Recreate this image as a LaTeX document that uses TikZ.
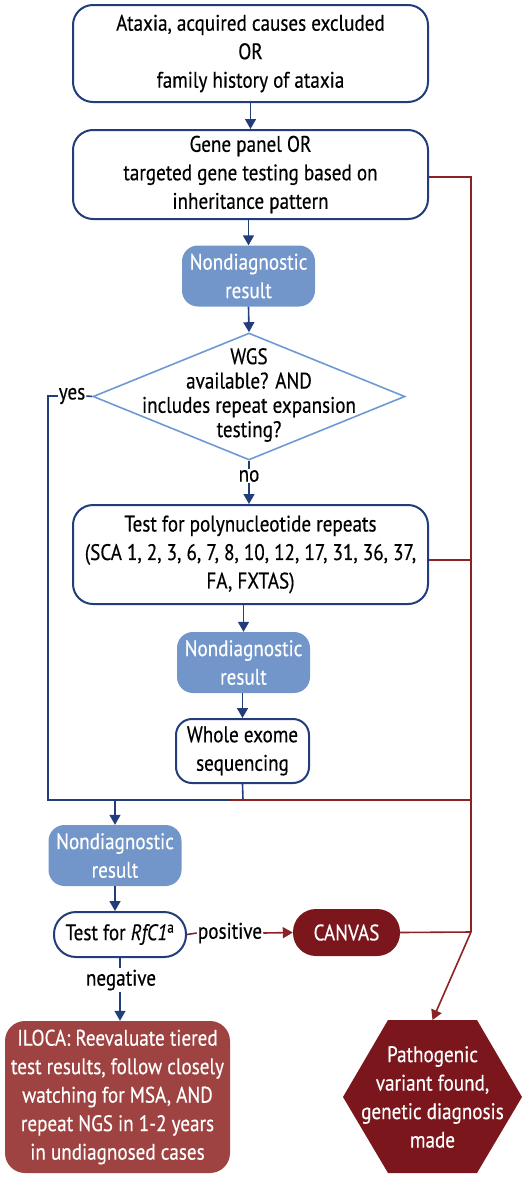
\documentclass[tikz,border=0pt]{standalone}
\usepackage{fontspec}
\setmainfont{PT Sans}[FakeStretch=0.85,FakeBold=0.4]
\usetikzlibrary{arrows.meta,shapes.geometric}
\definecolor{navy}{RGB}{33,62,122}
\definecolor{lblue}{RGB}{114,149,202}
\definecolor{dblue}{RGB}{111,153,211}
\definecolor{dred}{RGB}{122,22,28}
\definecolor{mred}{RGB}{158,67,65}
\definecolor{rline}{RGB}{139,34,38}
\begin{document}
\begin{tikzpicture}[x=1pt,y=-1pt,
  every node/.style={font=\fontsize{22.5}{28.5}\selectfont, align=center, inner sep=0pt},
  whitebox/.style={draw=navy, line width=2pt, fill=white, rounded corners=20pt},
  ndbox/.style={fill=lblue, text=white, rounded corners=16pt, minimum width=133pt, minimum height=61pt},
  blueline/.style={draw=navy, line width=1.6pt},
  redline/.style={draw=rline, line width=1.6pt},
  barrow/.style={blueline, -{Triangle[width=11pt,length=10pt]}},
  rarrow/.style={redline, -{Triangle[width=11pt,length=10pt]}},
  lbl/.style={fill=white, inner sep=1pt}
]
\useasboundingbox (0,0) rectangle (524,1178);

\node[whitebox, minimum width=355pt, minimum height=97pt] (b1) at (250.5,53.5)
  {Ataxia, acquired causes excluded\\OR\\family history of ataxia};
\node[whitebox, minimum width=355pt, minimum height=89pt] (b2) at (250.5,174.5)
  {Gene panel OR\\targeted gene testing based on\\inheritance pattern};
\node[ndbox] (nd1) at (248.5,276) {Nondiagnostic\\result};
\node[diamond, draw=dblue, line width=1.6pt, minimum width=312pt, minimum height=127pt] (dia) at (249,396.5) {};
\node[font=\fontsize{22.5}{24.3}\selectfont] (diat) at (249,395) {WGS\\available? AND\\includes repeat expansion\\testing?};
\node[lbl] (yes) at (72,396) {yes};
\node[lbl] (no) at (249,476) {no};
\node[whitebox, minimum width=355pt, minimum height=99pt] (b3) at (250.5,554.5)
  {Test for polynucleotide repeats\\(SCA 1, 2, 3, 6, 7, 8, 10, 12, 17, 31, 36, 37,\\FA, FXTAS)};
\node[ndbox] (nd2) at (243.5,662.5) {Nondiagnostic\\result};
\node[whitebox, rounded corners=16pt, minimum width=133pt, minimum height=64pt] (wes) at (242.5,751)
  {Whole exome\\sequencing};
\node[ndbox] (nd3) at (115,855.5) {Nondiagnostic\\result};
\node[whitebox, rounded corners=22pt, minimum width=132pt, minimum height=45pt] (rfc) at (120,934.5)
  {Test for \textit{RfC1}\textsuperscript{a}};
\node[lbl] (pos) at (230,933) {positive};
\node[fill=dred, text=white, rounded corners=23pt, minimum width=107pt, minimum height=47pt] (canvas) at (346.5,932.5) {CANVAS};
\node[lbl] (neg) at (121,980) {negative};
\node[fill=mred, text=white, rounded corners=20pt, minimum width=225pt, minimum height=152pt] (iloca) at (117.5,1097)
  {ILOCA: Reevaluate tiered\\test results, follow closely\\watching for MSA, AND\\repeat NGS in 1-2 years\\in undiagnosed cases};

% hexagon
\coordinate (hL) at (343,1097);
\coordinate (hTL) at (388,1020);
\coordinate (hTR) at (477,1020);
\coordinate (hR) at (522,1097);
\coordinate (hBR) at (477,1173);
\coordinate (hBL) at (388,1173);
\coordinate (htop) at (432.5,1020);
\fill[dred] (hL) -- (hTL) -- (hTR) -- (hR) -- (hBR) -- (hBL) -- cycle;
\node[text=white] (hex) at (432.5,1097) {Pathogenic\\variant found,\\genetic diagnosis\\made};

% blue flow
\draw[barrow] (b1.south) -- (b2.north);
\draw[barrow] (b2.south -| nd1.north) -- (nd1.north);
\draw[barrow] (nd1.south) -- (dia.north);
\draw[blueline] (dia.south) -- (no.north);
\draw[barrow] (no.south) -- (b3.north -| no.south);
\draw[barrow] (b3.south -| nd2.north) -- (nd2.north);
\draw[barrow] (nd2.south -| wes.north) -- (wes.north);
\coordinate (yc) at (48,396);
\coordinate (bc) at (48,800);
\coordinate (wj) at (243,800);
\coordinate (nj) at (115,800);
\coordinate (rj) at (230,800);
\draw[blueline] (dia.west) -- (yes.east);
\draw[blueline] (yes.west) -- (yc) -- (bc) -- (wj);
\draw[blueline] (wes.south) -- (wj);
\draw[barrow] (nj) -- (nd3.north);
\draw[barrow] (nd3.south) -- (rfc.north -| nd3.south);
\draw[blueline] (rfc.south) -- (neg.north -| rfc.south);
\draw[barrow] (neg.south -| rfc.south) -- (iloca.north -| rfc.south);

% red flow
\coordinate (r1) at (471,177);
\coordinate (r2) at (471,560);
\coordinate (r3) at (471,800);
\coordinate (r4) at (471,932);
\draw[redline] (rj) -- (r3);
\draw[redline] (b2.east |- r1) -- (r1) -- (r4);
\draw[redline] (b3.east |- r2) -- (r2);
\draw[redline] (canvas.east) -- (r4);
\draw[rarrow] (r4) -- (htop);
\draw[redline] (rfc.east) -- (pos.west);
\draw[rarrow] (pos.east) -- (canvas.west);
\end{tikzpicture}
\end{document}
